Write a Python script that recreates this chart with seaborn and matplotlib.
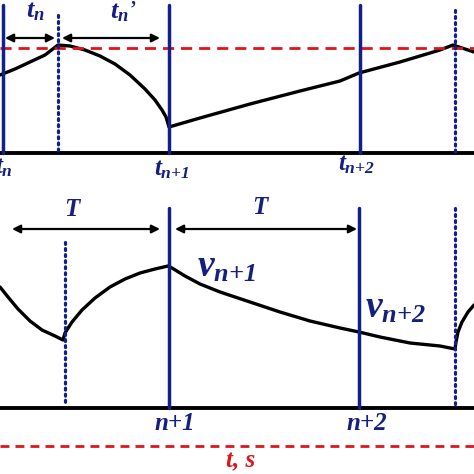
import matplotlib
matplotlib.use("Agg")
import matplotlib.pyplot as plt
import seaborn as sns

sns.set_theme(style="white")
plt.rcParams['font.family'] = ['Liberation Serif', 'DejaVu Serif']
plt.rcParams['mathtext.fontset'] = 'custom'
plt.rcParams['mathtext.rm'] = 'Liberation Serif:bold:italic'
plt.rcParams['mathtext.it'] = 'Liberation Serif:bold:italic'
plt.rcParams['mathtext.bf'] = 'Liberation Serif:bold:italic'

NAVY = "#13208a"
TXT = "#161f80"
RED = "#e0141c"

# ---- data (schematic, in picture units, y downwards) ----
top_curve_x = [0, 15, 30, 45, 58, 70, 85, 100, 115, 130, 145, 155, 162, 166,
               169, 200, 250, 300, 340, 359, 400, 440, 453, 474]
top_curve_y = [75, 69, 62, 55, 45, 46, 50, 56, 64, 75, 89, 100, 110, 117,
               127, 118, 104, 91, 81, 73, 62, 50, 45, 52]
bot_curve_x = [0, 8, 18, 30, 42, 55, 63, 65, 72, 82, 95, 110, 125, 140, 155, 168,
               172, 185, 200, 220, 250, 280, 310, 340, 359, 380, 410, 440, 455,
               456, 458, 462, 468, 474]
bot_curve_y = [287, 297, 309, 321, 330, 336, 340, 333, 322, 310, 298, 287, 279, 273, 269, 266,
               268, 276, 284, 292, 302, 312, 321, 328, 332, 337, 343, 346, 349,
               342, 332, 322, 312, 305]

top_solid_x = [3, 169, 360]
top_dotted_x = [58, 455]
bot_solid_x = [169, 359]
bot_dotted_x = [65, 455]

top_labels = ["$t_n$", "$t_{n{+}1}$", "$t_{n{+}2}$"]
bot_labels = ["n+1", "n+2"]
interval_labels_top = ["$t_n$", "$t_n$\u2019"]
interval_label_bot = "T"
speed_labels = ["$v_{n{+}1}$", "$v_{n{+}2}$"]
axis_label = "t, s"

fig = plt.figure(figsize=(4.74, 4.74), dpi=100)
ax = fig.add_axes([0, 0, 1, 1])
ax.set_xlim(0, 474)
ax.set_ylim(474, 0)
ax.axis("off")

# curves
sns.lineplot(x=top_curve_x, y=top_curve_y, sort=False, color="black", lw=2.4, ax=ax)
sns.lineplot(x=bot_curve_x, y=bot_curve_y, sort=False, color="black", lw=2.4, ax=ax)

# baselines
ax.plot([0, 474], [153, 153], color="black", lw=2.8)
ax.plot([0, 474], [408, 408], color="black", lw=2.8)

# red dashed lines
ax.plot([0, 474], [48, 48], color=RED, lw=2, ls=(0, (4, 2.5)))
ax.plot([0, 474], [446, 446], color=RED, lw=2, ls=(0, (3.2, 2.2)))

# vertical lines
dot = (0, (0.6, 1.3))
for x in top_solid_x:
    ax.plot([x, x], [5, 153], color=NAVY, lw=2.5)
ax.plot([top_dotted_x[0]] * 2, [15, 151], color=NAVY, lw=2.3, ls=dot, dash_capstyle="round")
ax.plot([top_dotted_x[1]] * 2, [10, 153], color=NAVY, lw=2.3, ls=dot, dash_capstyle="round")
for x in bot_solid_x:
    ax.plot([x, x], [208, 408], color=NAVY, lw=2.5)
ax.plot([bot_dotted_x[0]] * 2, [242, 404], color=NAVY, lw=2.3, ls=dot, dash_capstyle="round")
ax.plot([bot_dotted_x[1]] * 2, [208, 404], color=NAVY, lw=2.3, ls=dot, dash_capstyle="round")

# arrows
def darrow(x0, x1, y):
    ax.annotate("", xy=(x0, y), xytext=(x1, y),
                arrowprops=dict(arrowstyle="<|-|>", color="black", lw=1.6,
                                mutation_scale=12, shrinkA=0, shrinkB=0))

darrow(5, 55, 38)
darrow(62, 160, 38)
darrow(12, 160, 229)
darrow(175, 357, 229)

bi = dict(fontweight="bold", fontstyle="italic")

# labels
ax.text(35, 12, interval_labels_top[0], color=TXT, fontsize=19, ha="center", va="center")
ax.text(123, 12, interval_labels_top[1], color=TXT, fontsize=19, ha="center", va="center")
ax.text(4, 168, top_labels[0], color=TXT, fontsize=18, ha="center", va="center")
ax.text(172, 170, top_labels[1], color=TXT, fontsize=18, ha="center", va="center")
ax.text(356, 165, top_labels[2], color=TXT, fontsize=18, ha="center", va="center")

ax.text(72, 209, interval_label_bot, color=TXT, fontsize=18, ha="center", va="center", **bi)
ax.text(260, 208, interval_label_bot, color=TXT, fontsize=18, ha="center", va="center", **bi)

ax.text(197, 277, speed_labels[0], color=TXT, fontsize=27, ha="left", va="baseline")
ax.text(365, 318, speed_labels[1], color=TXT, fontsize=27, ha="left", va="baseline")

ax.text(175, 424, bot_labels[0], color=TXT, fontsize=18, ha="center", va="center", **bi)
ax.text(367, 424, bot_labels[1], color=TXT, fontsize=18, ha="center", va="center", **bi)

ax.text(241, 461, axis_label, color=RED, fontsize=18, ha="center", va="center", **bi)

fig.savefig("out.png", dpi=100, facecolor="white")
